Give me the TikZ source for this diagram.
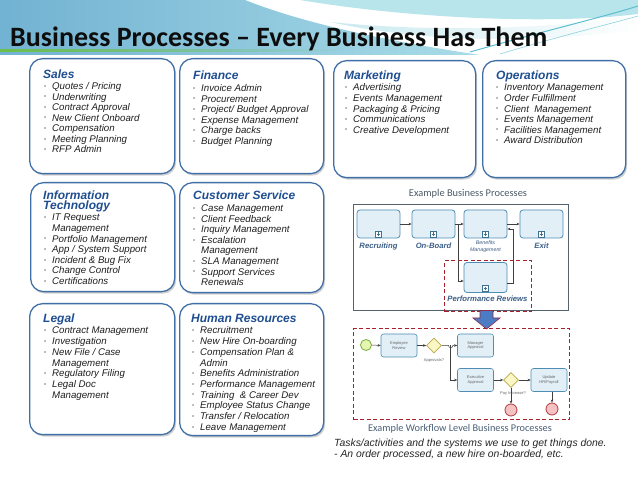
\documentclass[tikz,border=0pt]{standalone}
\usepackage{fontspec}
\setmainfont{Liberation Sans}
\newfontfamily\carl{Carlito}
\usetikzlibrary{shapes.geometric,shadows,fadings,arrows.meta}
\definecolor{hdblue}{HTML}{1F4E91}
\definecolor{boxblue}{HTML}{3F6FA6}
\definecolor{bandblue}{HTML}{72B2D2}
\definecolor{bandcyan}{HTML}{A9DCE7}
\definecolor{topcyan}{HTML}{B8E4EC}
\definecolor{swteal}{HTML}{5CBECE}
\definecolor{grline}{HTML}{6CC04A}
\definecolor{framecol}{HTML}{55636F}
\definecolor{spfill}{HTML}{E2EFF7}
\definecolor{spdraw}{HTML}{4F8DB5}
\definecolor{lblblue}{HTML}{3D5F87}
\definecolor{dashred}{HTML}{A8202C}
\definecolor{arrowblue}{HTML}{4B7CC4}
\definecolor{arrowred}{HTML}{8E2A4A}
\definecolor{gray1}{HTML}{4D5B66}
\definecolor{gray2}{HTML}{4A6078}
\definecolor{dfill}{HTML}{FBF6C6}
\definecolor{ddraw}{HTML}{B9A945}
\definecolor{stfill}{HTML}{E6F5B0}
\definecolor{stdraw}{HTML}{78AE3E}
\definecolor{enfill}{HTML}{F5C2C4}
\definecolor{endraw}{HTML}{B23A3E}
\newcommand\bul{\makebox[8pt][l]{\raisebox{1.2pt}{\fontsize{6}{6}\selectfont\upshape\textcolor{black!55}{•}}}}
\newcommand\cnt{\hspace*{8pt}}
% name, x, y of first baseline, line step, list of lines (each starting with \bul or \cnt)
\newcommand\blist[5]{%
  \foreach \t [count=\i] in {#5}{%
    \node[iline] (#1\i) at (#2,{#3+(\i-1)*#4}) {\t};
  }%
}
\begin{document}
\begin{tikzpicture}[x=1pt,y=-1pt,
  catbox/.style={draw=boxblue, line width=1.3pt, fill=white, rounded corners=13pt, inner sep=0, anchor=north west,
     drop shadow={shadow xshift=1.5pt, shadow yshift=-2pt, opacity=.3, fill=black!60}},
  head/.style={anchor=base west, inner sep=0, font=\fontsize{12}{10}\selectfont\bfseries\itshape, text=hdblue},
  iline/.style={anchor=base west, inner sep=0, font=\fontsize{9.7}{10.6}\selectfont\itshape, text=black!88},
  spbox/.style={draw=spdraw, fill=spfill, line width=.8pt, rounded corners=3pt, minimum width=43pt, minimum height=28pt, inner sep=0},
  splbl/.style={anchor=base, inner sep=0, font=\fontsize{7.7}{8}\selectfont\bfseries\itshape, text=lblblue},
  smlbl/.style={anchor=base, inner sep=0, font=\fontsize{5.3}{6}\selectfont\itshape, text=lblblue},
  wfbox/.style={draw=spdraw, fill=spfill, line width=.6pt, rounded corners=2.5pt, minimum width=36pt, minimum height=23pt, inner sep=0, align=center, font=\fontsize{4}{4.6}\selectfont, text=black!60},
  dia/.style={diamond, draw=ddraw, fill=dfill, line width=.7pt, minimum width=15pt, minimum height=15pt, inner sep=0},
  tiny/.style={inner sep=0, font=\fontsize{4}{4.6}\selectfont, text=black!60},
  arr/.style={-{Stealth[length=3pt,width=2.6pt]}, line width=.5pt, draw=black!75},
  reddash/.style={draw=dashred, line width=1.3pt, dash pattern=on 4pt off 2.5pt, inner sep=0, anchor=north west},
  capline/.style={anchor=base west, inner sep=0, font=\fontsize{10.4}{10.8}\selectfont\itshape, text=black!85}
]
\useasboundingbox (0,0) rectangle (638,478);
\fill[white] (0,0) rectangle (638,478);
% top band
\shade[left color=bandblue, right color=bandcyan] (0,0) -- (245,0) .. controls (300,22) and (380,40) .. (480,55) -- (0,55) -- cycle;
\fill[topcyan] (300,0) -- (638,0) -- (638,14) .. controls (560,24) and (420,20) .. (300,0) -- cycle;
\fill[bandcyan!60, path fading=east] (330,22) .. controls (430,32) and (540,30) .. (638,16) -- (638,30) .. controls (540,42) and (430,44) .. (330,22) -- cycle;
\draw[swteal, line width=1pt] (470,52) .. controls (540,32) and (600,18) .. (638,6);
\draw[swteal!70, line width=.6pt] (500,54) .. controls (560,36) and (610,24) .. (638,16);
\fill[grline, path fading=east] (0,49.5) rectangle (340,52);
% title
\node[anchor=base west, inner sep=0, font=\carl\fontsize{28}{30}\selectfont\bfseries, text=black!95] (title) at (10,47) {Business Processes – Every Business Has Them};
% category boxes
\node[catbox, minimum width=145pt, minimum height=115pt] (sales) at (29,58) {};
\node[catbox, minimum width=144pt, minimum height=115pt] (finance) at (179,58) {};
\node[catbox, minimum width=142pt, minimum height=117pt] (marketing) at (333,60) {};
\node[catbox, minimum width=143pt, minimum height=117pt] (ops) at (482,60) {};
\node[catbox, minimum width=144pt, minimum height=109pt] (it) at (30,182) {};
\node[catbox, minimum width=144pt, minimum height=110pt] (cs) at (179,182) {};
\node[catbox, minimum width=145pt, minimum height=131pt] (legal) at (29,303) {};
\node[catbox, minimum width=144pt, minimum height=132pt] (hr) at (179,303) {};
% Sales
\node[head] (salesH) at (43,78.5) {Sales};
\blist{salesL}{44}{89.5}{10.55}{\bul Quotes / Pricing, \bul Underwriting, \bul Contract Approval, \bul New Client Onboard, \bul Compensation, \bul Meeting Planning, \bul RFP Admin}
% Finance
\node[head] (finH) at (193,80) {Finance};
\blist{finL}{193}{91.5}{10.55}{\bul Invoice Admin, \bul Procurement, \bul Project/ Budget Approval, \bul Expense Management, \bul Charge backs, \bul Budget Planning}
% Marketing
\node[head] (mktH) at (344,80) {Marketing};
\blist{mktL}{345}{91}{10.55}{\bul Advertising, \bul Events Management, \bul Packaging \& Pricing, \bul Communications, \bul Creative Development}
% Operations
\node[head] (opsH) at (496,80) {Operations};
\blist{opsL}{496}{91}{10.55}{\bul Inventory Management, \bul Order Fulfillment, \bul Client\ \ Management, \bul Events Management, \bul Facilities Management, \bul Award Distribution}
% IT
\node[head] (itH1) at (43,199.2) {Information};
\node[head] (itH2) at (43,209.8) {Technology};
\blist{itL}{44}{221}{10.6}{\bul IT Request, \cnt Management, \bul Portfolio Management, \bul App / System Support, \bul Incident \& Bug Fix, \bul Change Control, \bul Certifications}
% Customer Service
\node[head] (csH) at (193,200) {Customer Service};
\blist{csL}{193}{211.5}{10.6}{\bul Case Management, \bul Client Feedback, \bul Inquiry Management, \bul Escalation, \cnt Management, \bul SLA Management, \bul Support Services, \cnt Renewals}
% Legal
\node[head] (legH) at (43,323) {Legal};
\blist{legL}{44}{334}{10.7}{\bul Contract Management, \bul Investigation, \bul New File / Case, \cnt Management, \bul Regulatory Filing, \bul Legal Doc, \cnt Management}
% HR
\node[head] (hrH) at (191,323) {Human Resources};
\blist{hrL}{192}{334}{10.7}{\bul Recruitment, \bul New Hire On-boarding, \bul Compensation Plan \&, \cnt Admin, \bul Benefits Administration, \bul Performance Management, \bul Training\ \ \& Career Dev, \bul Employee Status Change, \bul Transfer / Relocation, \bul Leave Management}
% ---- example business processes
\node[anchor=base, inner sep=0, font=\carl\fontsize{10.4}{11}\selectfont, text=gray1] (ebpT) at (468,197) {Example Business Processes};
\node[draw=framecol, line width=.9pt, minimum width=215pt, minimum height=106pt, anchor=north west, inner sep=0] (frame) at (353,204) {};
\node[spbox] (rec) at (378.5,224) {};
\node[spbox] (onb) at (433.5,224) {};
\node[spbox] (ben) at (485.5,224) {};
\node[spbox] (exit) at (541.5,224) {};
\node[spbox, minimum height=30pt] (perf) at (485.5,277.5) {};
\foreach \b in {rec,onb,ben,exit,perf}{
  \draw[draw=spdraw!80!black, fill=white, line width=.6pt] ([xshift=-3pt,yshift=1.5pt]\b.south) rectangle ([xshift=3pt,yshift=7.5pt]\b.south);
  \draw[draw=spdraw!80!black, line width=.7pt] ([xshift=-1.8pt,yshift=4.5pt]\b.south) -- ([xshift=1.8pt,yshift=4.5pt]\b.south)
     ([yshift=2.7pt]\b.south) -- ([yshift=6.3pt]\b.south);
}
\node[splbl] (recL) at (378.5,249) {Recruiting};
\node[splbl] (onbL) at (433.5,249) {On-Board};
\node[smlbl] (benL1) at (485.5,245) {Benefits};
\node[smlbl] (benL2) at (485.5,252) {Management};
\node[splbl] (exitL) at (541.5,249) {Exit};
\node[splbl] (perfL) at (487.5,302) {Performance Reviews};
\draw[arr] (rec.east) -- (onb.west);
\draw[arr] (onb.east) -- (ben.west);
\draw[arr] (ben.east) -- (exit.west);
\coordinate (brL) at (458,224);
\coordinate (brR) at (513,229);
\draw[arr] (brL) |- ([yshift=-3.5pt]perf.west);
\draw[arr] ([yshift=-5.5pt]perf.east) -| (brR) -- (brR -| ben.east);
\node[reddash, minimum width=87pt, minimum height=51pt] (pr) at (444,260) {};
% block arrow
\fill[arrowblue, draw=arrowred, line width=.6pt] (480,310.5) -- (493,310.5) -- (493,318) -- (500,318) -- (486.5,329) -- (473,318) -- (480,318) -- cycle;
% ---- workflow
\node[reddash, minimum width=216pt, minimum height=91pt] (wf) at (353,328) {};
\node[circle, draw=stdraw, fill=stfill, line width=.8pt, minimum size=11pt, inner sep=0] (st) at (366,345) {};
\node[wfbox] (emp) at (399,345.5) {Employee\\Review};
\node[dia] (d1) at (434,345.5) {};
\node[tiny, anchor=base] (d1L) at (434,362) {Approvals?};
\node[wfbox] (mgr) at (475.5,345.5) {Manager\\Approval};
\node[wfbox] (exe) at (475.5,380) {Executive\\Approval};
\node[dia] (d2) at (511,380) {};
\node[tiny, anchor=base] (d2L) at (513,395) {Pay Increase?};
\node[wfbox] (upd) at (549,380) {Update\\HR/Payroll};
\node[circle, draw=endraw, fill=enfill, line width=.8pt, minimum size=12pt, inner sep=0] (en1) at (511,410) {};
\node[circle, draw=endraw, fill=enfill, line width=.8pt, minimum size=12pt, inner sep=0] (en2) at (552,409) {};
\draw[arr] (st.east) -- (emp.west);
\draw[arr] (emp.east) -- (d1.west);
\coordinate (hop) at (448.5,345.5);
\draw[arr] (d1.east) -- (hop) arc[start angle=180, end angle=360, radius=2.2pt] -- (mgr.west);
\coordinate (brW) at (450.7,345.5);
\draw[arr] (brW) |- (exe.west);
\draw[arr] (exe.east) -- (d2.west);
\draw[arr] (d2.east) -- (upd.west);
\draw[arr] (d2.south) -- (en1.north);
\draw[arr] (upd.south -| en2.north) -- (en2.north);
\node[anchor=base, inner sep=0, font=\carl\fontsize{10.3}{11}\selectfont, text=gray2] (wfT) at (460,431.5) {Example Workflow Level Business Processes};
% caption
\node[capline] (cap1) at (334,447) {Tasks/activities and the systems we use to get things done.};
\node[capline] (cap2) at (334,458) {- An order processed, a new hire on-boarded, etc.};
\end{tikzpicture}
\end{document}
